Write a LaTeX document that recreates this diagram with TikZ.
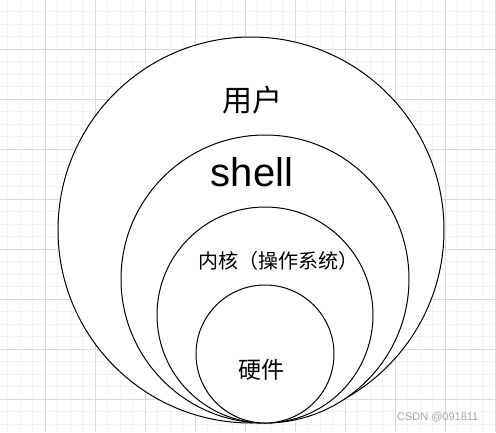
\documentclass[tikz,border=0pt]{standalone}
\usepackage{fontspec}
\setmainfont{Liberation Sans}
\newfontfamily\cjk{Noto Sans CJK SC}
\tikzset{
    x=1pt, y=-1pt, % one unit is one pixel, y grows downwards
    layer/.style={circle, draw, fill=white, line width=1pt, inner sep=0pt}, % sets the look of each ring
    minorline/.style={draw=gray!10, line width=1pt}, % thin lines of the paper grid
    majorline/.style={draw=gray!28, line width=1pt}, % every fourth grid line
}

\begin{document}
\begin{tikzpicture}
    \useasboundingbox (0,0) rectangle (496,432);
    \fill[white] (0,0) rectangle (496,432);

    \foreach \x in {7.5,20,...,496} \draw[minorline] (\x,0) -- (\x,432);
    \foreach \y in {11.8,24.3,...,432} \draw[minorline] (0,\y) -- (496,\y);
    \foreach \x in {45,95,...,495} \draw[majorline] (\x,0) -- (\x,432);
    \foreach \y in {49.3,99.3,...,432} \draw[majorline] (0,\y) -- (496,\y);

    \node[layer, minimum size=386pt](user) at (251,230){};
    \node[layer, minimum size=288pt](shell) at (265,279){};
    \node[layer, minimum size=216pt](kernel) at (265,315){};
    \node[layer, minimum size=138pt](hw) at (265,354){};

    \node(userlbl) at (252,100){\cjk\fontsize{30}{36}\selectfont 用户};
    \node(shelllbl) at (252,172.5){\fontsize{40}{48}\selectfont shell};
    \node(kernellbl) at (278,261){\cjk\fontsize{20}{24}\selectfont 内核（操作系统）};
    \node(hwlbl) at (261,369.5){\cjk\fontsize{23}{28}\selectfont 硬件};

    \node[text=gray!70](mark) at (437.7,417.7){\fontsize{11}{13}\selectfont CSDN @091811};
\end{tikzpicture}
\end{document}
